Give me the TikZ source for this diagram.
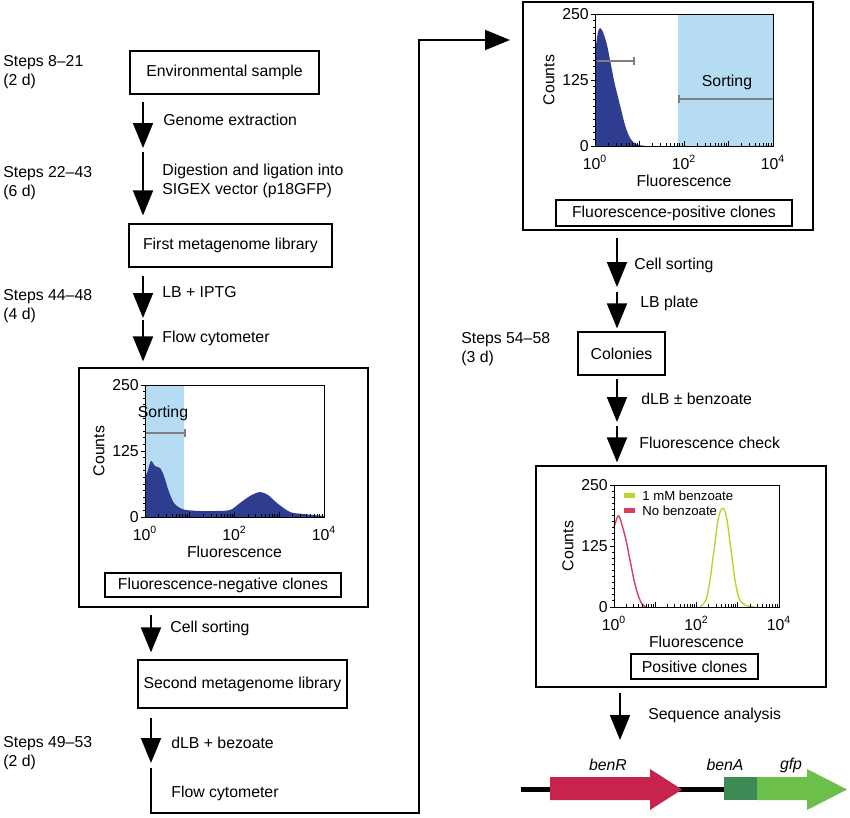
\documentclass[tikz,border=0pt]{standalone}
\usepackage{fontspec}
\setmainfont{Liberation Sans}
\usetikzlibrary{arrows.meta}
\definecolor{histblue}{HTML}{2E3D8F}
\definecolor{sortblue}{HTML}{B5DCF3}
\definecolor{benred}{HTML}{C8234F}
\definecolor{linered}{HTML}{D63F5D}
\definecolor{darkgreen}{HTML}{3D8A54}
\definecolor{lightgreen}{HTML}{6CBF4A}
\definecolor{ygreen}{HTML}{BCD52C}
\definecolor{gatecol}{HTML}{7F7F7F}

%Achsen: #1 Name, #2 x0, #3 y unten, #4 Breite, #5 Hoehe
\newcommand\achsen[5]{
\draw[axis] (#2,#3) rectangle ++(#4,-#5);
\foreach \dek in {0,1,2,3}{\foreach \kk in {2,...,9}{\draw[axis] ({#2+(\dek+log10(\kk))*#4/4},#3) -- ++(0,-3);}}
\foreach \dek in {0,...,4} \draw[axis] ({#2+\dek*#4/4},#3) -- ++(0,-5);
\foreach \ii in {1,...,19} \draw[axis] (#2,{#3-\ii*#5/20}) -- ++(-2.5,0);
\foreach \ii in {0,1,2} \draw[axis] (#2,{#3-\ii*#5/2}) -- ++(-4.5,0);
\node[anchor=east,inner sep=0pt] (#1y0) at (#2-6,#3) {0};
\node[anchor=east,inner sep=0pt] (#1y1) at (#2-6,{#3-#5/2}) {125};
\node[anchor=east,inner sep=0pt] (#1y2) at (#2-6,#3-#5) {250};
\node[anchor=base,inner sep=0pt] (#1x0) at (#2,#3+23) {10\textsuperscript{0}};
\node[anchor=base,inner sep=0pt] (#1x1) at ({#2+#4/2},#3+23) {10\textsuperscript{2}};
\node[anchor=base,inner sep=0pt] (#1x2) at (#2+#4,#3+23) {10\textsuperscript{4}};
\node[anchor=base,inner sep=0pt] (#1fl) at ({#2+#4/2},#3+40) {Fluorescence};
\node[rotate=90,inner sep=0pt] (#1ct) at (#2-46,{#3-#5/2}) {Counts};
}

\begin{document}
\begin{tikzpicture}[x=0.02cm,y=-0.02cm,font=\fontsize{9}{10.8}\selectfont,
  box/.style={draw,line width=0.7pt,inner sep=0pt},
  flow/.style={line width=1.1pt,-{Triangle[length=0.5cm,width=0.4cm]}},
  lbl/.style={anchor=west,inner sep=0pt,align=left},
  axis/.style={line width=0.5pt},
  gate/.style={draw=gatecol,line width=0.7pt}]
\useasboundingbox (0,0) rectangle (850,818);

%Kaesten
\node[box,minimum width=3.78cm,minimum height=0.86cm] (env) at (224.5,72.5) {Environmental sample};
\node[box,minimum width=4.06cm,minimum height=0.86cm] (lib1) at (230.5,245.5) {First metagenome library};
\node[box,minimum width=5.78cm,minimum height=4.78cm] (plotA) at (223.5,487.5) {};
\node[box,minimum width=4.72cm,minimum height=0.48cm] (negA) at (223,585) {Fluorescence-negative clones};
\node[box,minimum width=4.18cm,minimum height=0.96cm] (lib2) at (242.5,684) {Second metagenome library};
\node[box,minimum width=5.8cm,minimum height=4.56cm] (plotB) at (668,116) {};
\node[box,minimum width=4.72cm,minimum height=0.52cm] (posB) at (674,213) {Fluorescence-positive clones};
\node[box,minimum width=1.74cm,minimum height=0.86cm] (colonies) at (621.5,353.5) {Colonies};
\node[box,minimum width=5.8cm,minimum height=4.42cm] (plotC) at (681,576.5) {};
\node[box,minimum width=2.54cm,minimum height=0.5cm] (posC) at (694.5,666.5) {Positive clones};

%Schritte
\node[lbl] (st1) at (3,72.5) {Steps 8–21\\(2 d)};
\node[lbl] (st2) at (3,183.5) {Steps 22–43\\(6 d)};
\node[lbl] (st3) at (3,306.5) {Steps 44–48\\(4 d)};
\node[lbl] (st4) at (3,753.5) {Steps 49–53\\(2 d)};
\node[lbl] (st5) at (461,349.5) {Steps 54–58\\(3 d)};

%Pfeile links
\coordinate (k1) at (143,150);
\coordinate (k2) at (143,319);
\coordinate (k3) at (151,765);
\coordinate (k4) at (151,813);
\coordinate (k5) at (419,813);
\coordinate (k6) at (510,40);
\draw[flow,shorten <=0.14cm,shorten >=0.04cm] (env.south -| k1) -- (k1);
\draw[flow,shorten <=0.04cm,shorten >=0.16cm] (k1) -- (lib1.north -| k1);
\draw[flow,shorten <=0.16cm,shorten >=0.02cm] (lib1.south -| k1) -- (k2);
\draw[flow,shorten <=0.02cm,shorten >=0.12cm] (k2) -- (plotA.north -| k2);
\draw[flow,shorten <=0.14cm,shorten >=0.14cm] (plotA.south -| k3) -- (lib2.north -| k3);
\draw[flow,shorten <=0.18cm,shorten >=0.04cm] (lib2.south -| k3) -- (k3);
\draw[flow,shorten <=0.06cm] (k3) -- (k4) -- (k5) |- (k6);

\node[lbl] (l1) at (163,120) {Genome extraction};
\node[lbl] (l2) at (162,180.5) {Digestion and ligation into\\SIGEX vector (p18GFP)};
\node[lbl] (l3) at (162,292) {LB + IPTG};
\node[lbl] (l4) at (162,338) {Flow cytometer};
\node[lbl] (l5) at (170,628) {Cell sorting};
\node[lbl] (l6) at (171,743) {dLB + bezoate};
\node[lbl] (l7) at (171,793) {Flow cytometer};

%Pfeile rechts
\coordinate (r1) at (617,289);
\coordinate (r2) at (617,424);
\coordinate (r3) at (620,740);
\draw[flow,shorten <=0.14cm,shorten >=0.04cm] (plotB.south -| r1) -- (r1);
\draw[flow,shorten <=0.06cm,shorten >=0.06cm] (r1) -- (colonies.north -| r1);
\draw[flow,shorten <=0.06cm,shorten >=0.04cm] (colonies.south -| r2) -- (r2);
\draw[flow,shorten <=0.04cm,shorten >=0.06cm] (r2) -- (plotC.north -| r2);
\draw[flow,shorten <=0.1cm] (plotC.south -| r3) -- (r3);

\node[lbl] (l8) at (634,265) {Cell sorting};
\node[lbl] (l9) at (640,303) {LB plate};
\node[lbl] (l10) at (641,399) {dLB ± benzoate};
\node[lbl] (l11) at (639,443) {Fluorescence check};
\node[lbl] (l12) at (648,715) {Sequence analysis};

%Diagramm 1
\fill[sortblue] (145,385) rectangle (184,517);
\fill[histblue] (145,517) -- plot[smooth,tension=0.5] coordinates {(145,478) (148,470) (151,461) (155,466) (160,468) (164,476) (169,492) (174,503) (180,508) (186,510) (200,511) (215,511) (230,510) (240,503) (250,496) (260,492) (268,495) (277,503) (290,512) (303,514) (324,516)} -- (324,517) -- cycle;
\draw[gate] (145,433) -- (185,433);
\draw[gate] (185,429) -- (185,437);
\node (sortA) at (163,413) {Sorting};
\achsen{pA}{145}{517}{179}{132}

%Diagramm 2
\fill[sortblue] (678,14) rectangle (773,146);
\fill[histblue] (595,146) -- plot[smooth,tension=0.5] coordinates {(596,45) (598,32) (600,28) (603,32) (607,45) (611,65) (615,85) (620,105) (625,125) (630,138) (636,144) (645,146)} -- cycle;
\draw[gate] (597,61) -- (634,61);
\draw[gate] (634,57) -- (634,65);
\draw[gate] (679,99) -- (773,99);
\draw[gate] (679,95) -- (679,103);
\node (sortB) at (727,82) {Sorting};
\achsen{pB}{595}{146}{178}{132}

%Diagramm 3
\draw[linered,line width=0.8pt] plot[smooth,tension=0.5] coordinates {(614,527) (617,518) (619,516) (622,525) (626,540) (630,560) (634,580) (638,595) (642,604) (646,607)};
\draw[ygreen,line width=0.8pt] plot[smooth,tension=0.5] coordinates {(700,607) (706,600) (710,580) (714,550) (718,520) (721,510) (724,509) (727,520) (731,550) (735,580) (739,598) (745,605) (755,607)};
\fill[ygreen] (624,493) rectangle (635,498);
\fill[linered] (624,508) rectangle (635,513);
\node[lbl,font=\fontsize{7.5}{9}\selectfont] (leg1) at (642,495.5) {1 mM benzoate};
\node[lbl,font=\fontsize{7.5}{9}\selectfont] (leg2) at (642,510.5) {No benzoate};
\achsen{pC}{614}{607}{165}{122}

%Gene
\draw[line width=2.3pt] (521,789.5) -- (724,789.5);
\fill[benred] (550,777) -- (650,777) -- (650,769) -- (682,789.5) -- (650,810) -- (650,800) -- (550,800) -- cycle;
\fill[darkgreen] (724,777) rectangle (757,800);
\fill[lightgreen] (757,777) -- (807,777) -- (807,769) -- (847,789.5) -- (807,810) -- (807,800) -- (757,800) -- cycle;
\node[font=\fontsize{9}{10.8}\selectfont\itshape] (benR) at (608,765) {benR};
\node[font=\fontsize{9}{10.8}\selectfont\itshape] (benA) at (725,765) {benA};
\node[font=\fontsize{9}{10.8}\selectfont\itshape] (gfp) at (791,765) {gfp};

\end{tikzpicture}
\end{document}
